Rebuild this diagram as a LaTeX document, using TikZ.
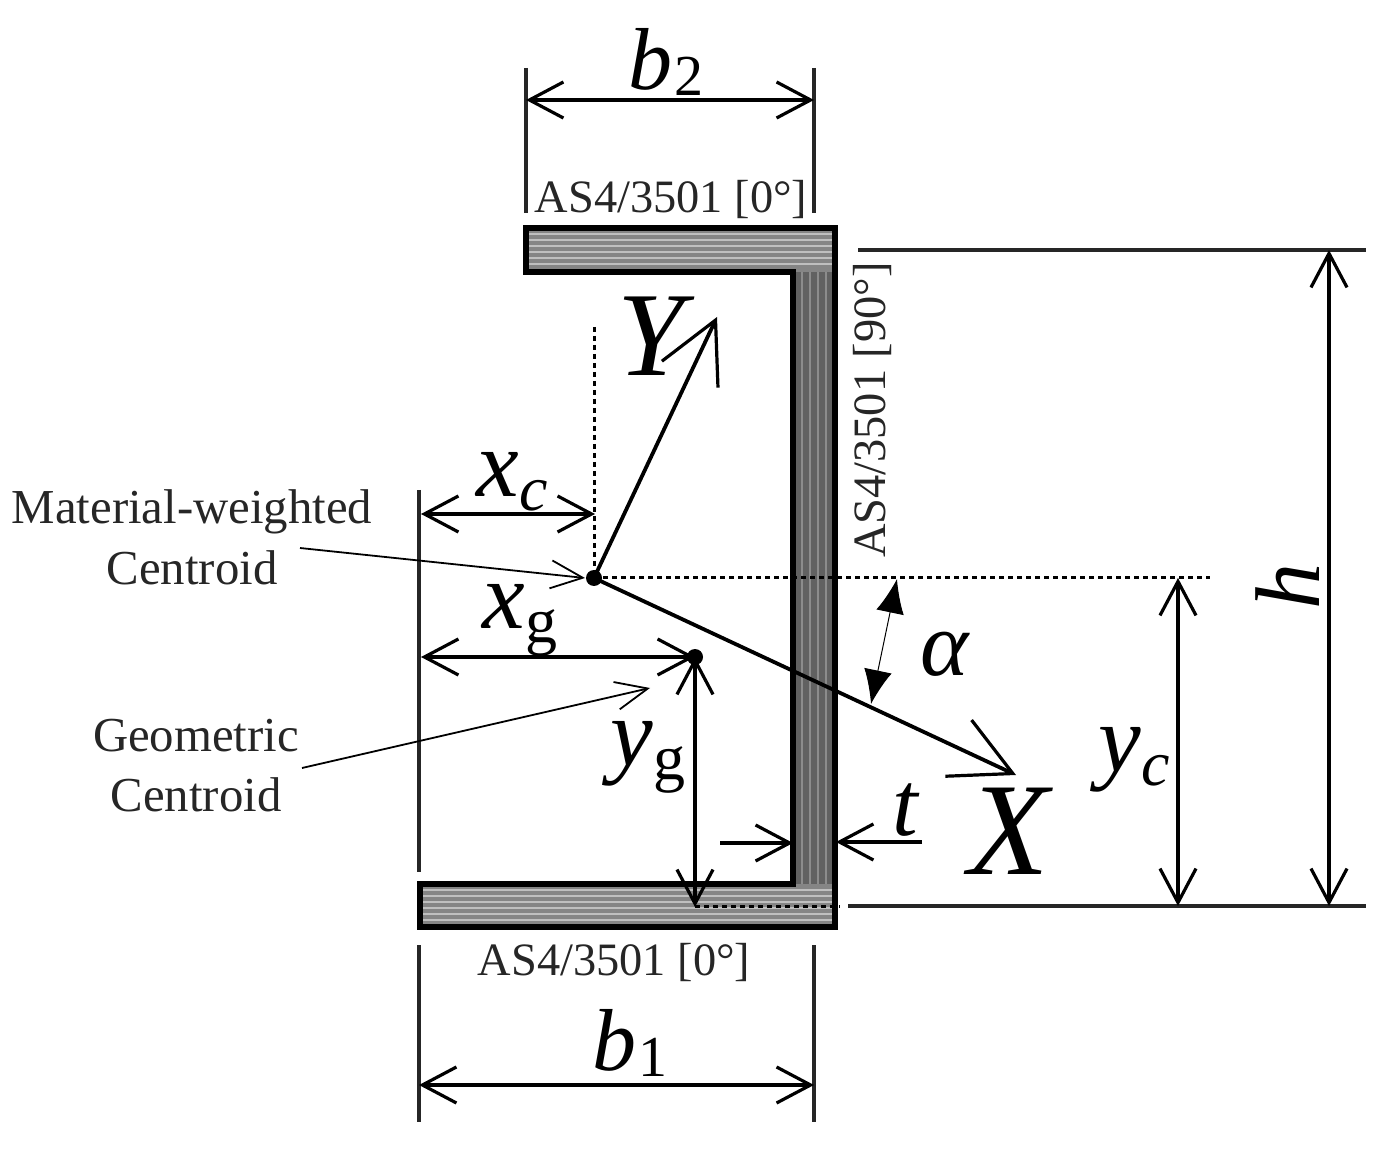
\documentclass[tikz,border=0pt]{standalone}
\usepackage{fontspec}
\setmainfont{Liberation Serif}
\usetikzlibrary{arrows.meta}
\newcommand{\biglab}[2]{\fontsize{48}{48}\selectfont\itshape #1\raisebox{-7pt}{\fontsize{32}{32}\selectfont #2}}
\newcommand{\blab}[2]{\fontsize{44}{44}\selectfont\itshape #1\raisebox{-3pt}{\hspace{1pt}\fontsize{29}{29}\selectfont #2}}
\tikzset{
  dim/.style={line width=1.7pt,{Straight Barb[length=17pt,width=18pt,line width=1.6pt]}-{Straight Barb[length=17pt,width=18pt,line width=1.6pt]}},
  tiparrow/.style={line width=1.7pt,-{Straight Barb[length=17pt,width=18pt,line width=1.6pt]}},
  axisarrow/.style={line width=1.9pt,-{Straight Barb[length=30pt,width=31pt,line width=1.6pt]}},
  leader/.style={line width=.9pt,-{Straight Barb[length=16pt,width=14pt,line width=.9pt]}},
  tick/.style={line width=1.6pt,black!85},
  dotline/.style={line width=1.5pt,dash pattern=on 2.5pt off 2pt},
  mat/.style={font=\fontsize{23.2}{23}\selectfont,text=black!85,inner sep=0pt},
  note/.style={font=\fontsize{24.4}{24}\selectfont,text=black!85,inner sep=0pt},
  sym/.style={inner sep=0pt},
  dot/.style={circle,fill=black,inner sep=0pt,minimum size=8pt},
  outline/.style={line width=2.9pt,miter limit=10},
}
\begin{document}
\begin{tikzpicture}[x=.5pt,y=-.5pt]
\useasboundingbox (0,0) rectangle (1392,1154);
% flange and web fills
\fill[black!48] (526,228) rectangle (835,272);
\fill[black!48] (420,884) rectangle (835,927);
\fill[black!62] (793,272) rectangle (835,884);
\foreach \y in {234,240,246,252,258,264}{\draw[black!25,line width=.8pt] (526,\y) -- (835,\y);}
\foreach \y in {890,896,902,908,914,920}{\draw[black!25,line width=.8pt] (420,\y) -- (835,\y);}
\foreach \x in {802,810,818,826}{\draw[black!45,line width=.9pt] (\x,272) -- (\x,884);}
% section outline
\draw[outline] (526,228) -- (835,228) -- (835,927) -- (420,927) -- (420,884) -- (793,884) -- (793,272) -- (526,272) -- cycle;
% reference points
\node[dot] (mc) at (594,578) {};
\node[dot] (gc) at (695,657) {};
\coordinate (xend) at (1016,775);
\coordinate (yend) at (717,317);
\coordinate (cdotv) at (594,327);
\coordinate (cdoth) at (1210,578);
\coordinate (bdotL) at (695,906);
\coordinate (bdotR) at (840,906);
\coordinate (blineL) at (848,906);
\coordinate (blineR) at (1366,906);
\coordinate (tlineL) at (858,250);
\coordinate (tlineR) at (1366,250);
% tick lines
\coordinate (t1a) at (526,68); \coordinate (t1b) at (526,213);
\coordinate (t2a) at (814,68); \coordinate (t2b) at (814,213);
\coordinate (t3a) at (419,490); \coordinate (t3b) at (419,872);
\coordinate (t4a) at (419,945); \coordinate (t4b) at (419,1122);
\coordinate (t5a) at (814,945); \coordinate (t5b) at (814,1122);
\draw[tick] (t1a) -- (t1b);
\draw[tick] (t2a) -- (t2b);
\draw[tick] (t3a) -- (t3b);
\draw[tick] (t4a) -- (t4b);
\draw[tick] (t5a) -- (t5b);
\draw[tick] (tlineL) -- (tlineR);
\draw[tick] (blineL) -- (blineR);
% dotted lines
\draw[dotline] (cdotv) -- (mc.center);
\draw[dotline] (mc.center) -- (cdoth);
\draw[dotline] (bdotL) -- (bdotR);
% dimensions
\coordinate (b2L) at (526,100); \coordinate (b2R) at (814,100);
\coordinate (b1L) at (419,1085); \coordinate (b1R) at (814,1085);
\coordinate (xcL) at (421,514); \coordinate (xcR) at (595,514);
\coordinate (xgL) at (421,657);
\coordinate (ygB) at (695,907);
\coordinate (hT) at (1329,250); \coordinate (hB) at (1329,906);
\coordinate (ycT) at (1178,578); \coordinate (ycB) at (1178,906);
\coordinate (t1s) at (720,843); \coordinate (t1e) at (793,843);
\coordinate (t2s) at (922,842); \coordinate (t2e) at (836,842);
\draw[dim] (b2L) -- (b2R);
\draw[dim] (b1L) -- (b1R);
\draw[dim] (xcL) -- (xcR);
\draw[dim] (xgL) -- (gc.center);
\draw[dim] (gc.center) -- (ygB);
\draw[dim] (hT) -- (hB);
\draw[dim] (ycT) -- (ycB);
\draw[tiparrow] (t1s) -- (t1e);
\draw[tiparrow] (t2s) -- (t2e);
% axes
\draw[axisarrow] (mc.center) -- (yend);
\draw[axisarrow] (mc.center) -- (xend);
% angle
\coordinate (aT) at (897,579); \coordinate (aB) at (871,704);
\draw[line width=.5pt,{Latex[length=17pt,width=14pt]}-{Latex[length=17pt,width=14pt]}] (aT) -- (aB);
% text
\node[note,align=center] (n1a) at (192,512) {Material-weighted};
\node[note] (n1b) at (192,568) {Centroid};
\node[note] (n2a) at (196,736) {Geometric};
\node[note] (n2b) at (196,795) {Centroid};
\coordinate (l1) at (300,548); \coordinate (l1e) at (585,578);
\coordinate (l2) at (302,768); \coordinate (l2e) at (650,688);
\draw[leader] (l1) -- (l1e);
\draw[leader] (l2) -- (l2e);
\node[mat] (m1) at (671,200) {AS4/3501 [0°]};
\node[mat] (m2) at (614,963) {AS4/3501 [0°]};
\node[mat,rotate=90] (m3) at (872,410) {AS4/3501 [90°]};
\node[sym] (lb2) at (666,62) {\blab{b}{\upshape 2}};
\node[sym] (lb1) at (630,1043) {\blab{b}{\upshape 1}};
\node[sym] (lxc) at (512,482) {\biglab{x}{c}};
\node[sym] (lxg) at (520,620) {\biglab{x}{\upshape g}};
\node[sym] (lyg) at (648,757) {\biglab{y}{\upshape g}};
\node[sym] (lyc) at (1134,760) {\biglab{y}{c}};
\node[sym] (la) at (945,654) {\fontsize{46}{46}\selectfont\itshape α};
\node[sym] (lt) at (905,810) {\fontsize{46}{46}\selectfont\itshape t};
\node[sym] (lh) at (1288,587) [rotate=90] {\fontsize{46}{46}\selectfont\itshape h};
\node[sym] (lY) at (651,336) {\fontsize{60}{60}\selectfont\itshape Y};
\node[sym] (lX) at (1009,831) {\fontsize{66}{66}\selectfont\itshape X};
\end{tikzpicture}
\end{document}
